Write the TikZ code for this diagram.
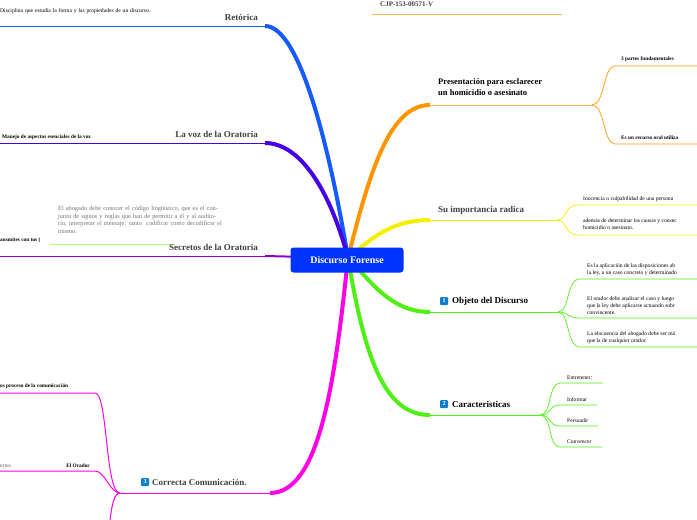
\documentclass[tikz,border=0pt]{standalone}
\usepackage{fontspec}
\setmainfont{Liberation Serif}
\begin{document}
\begin{tikzpicture}[x=1pt,y=-1pt,
 lbl/.style={font=\bfseries\fontsize{9}{10}\selectfont,text=black!75,inner sep=0},
 sm/.style={font=\fontsize{5.6}{7}\selectfont,inner sep=0,align=left},
 smb/.style={font=\bfseries\fontsize{5.3}{6}\selectfont,inner sep=0},
 ic/.style={fill=cyan!60!blue,text=white,font=\bfseries\fontsize{6}{6}\selectfont,rounded corners=1pt,minimum size=8pt,inner sep=0}]
\useasboundingbox (0,0) rectangle (697,520);
\definecolor{qb}{RGB}{20,90,255}\definecolor{qv}{RGB}{70,0,230}\definecolor{qp}{RGB}{140,0,210}
\definecolor{qm}{RGB}{255,0,230}\definecolor{qo}{RGB}{255,150,0}\definecolor{qy}{RGB}{245,240,0}
\definecolor{qg}{RGB}{80,240,20}\definecolor{ql}{RGB}{180,255,120}
% main branches
\coordinate (c) at (348,258);
\draw[qb,line width=4pt] (c) .. controls (330,150) and (300,26) .. (265,26);
\draw[qb,line width=1pt] (265,26) -- (0,26);
\draw[qv,line width=4pt] (c) .. controls (330,190) and (300,143) .. (265,143);
\draw[qv,line width=1pt] (265,143) -- (0,143);
\draw[qp,line width=2pt] (c) -- (265,256);
\draw[qp,line width=1pt] (265,256) -- (0,256);
\draw[qm,line width=4pt] (c) .. controls (335,380) and (320,493) .. (270,493);
\draw[qm,line width=1pt] (270,493) -- (120,493);
\draw[qo,line width=4pt] (c) .. controls (370,170) and (390,105) .. (430,105);
\draw[qo!70,line width=1pt] (430,105) -- (592,105);
\draw[qy,line width=4pt] (c) .. controls (370,240) and (390,220) .. (430,220);
\draw[qy,line width=1pt] (430,220) -- (557,220);
\draw[qg,line width=4pt] (c) .. controls (370,280) and (390,312) .. (430,312);
\draw[qg,line width=1pt] (430,312) -- (558,312);
\draw[qg,line width=4pt] (c) .. controls (365,360) and (385,415) .. (430,415);
\draw[qg,line width=1pt] (430,415) -- (540,415);
% center
\node[fill=blue!80!cyan,text=white,rounded corners=3pt,minimum width=113pt,minimum height=25pt,font=\bfseries\fontsize{10}{12}\selectfont] (center) at (347,260) {Discurso Forense};
% left labels
\node[lbl,anchor=south east] (ret) at (258,21) {Retórica};
\node[sm,anchor=north west,text width=155pt] (retd) at (0,8) {Disciplina que estudia la forma y las propiedades de un discurso.};
\node[lbl,anchor=south east] (voz) at (258,138) {La voz de la Oratoria};
\node[smb,anchor=south west] (vozd) at (2,140) {Manejo de aspectos esenciales de la voz};
\node[smb,anchor=south west] (sd) at (0,243) {ansmites con tus (};
\draw[ql,line width=1pt] (50,244) -- (175,244);
\node[lbl,anchor=south east] (sec) at (258,251) {Secretos de la Oratoria};
\node[anchor=north west,text width=168pt,text=black!55,font=\fontsize{6.3}{7.5}\selectfont,inner sep=0,align=left] (secd) at (58,206) {El abogado debe conocer el código lingüístico, que es el conjunto de signos y reglas que han de permitir a él y al auditorio, interpretar el mensaje: tanto~ codificar como decodificar el mismo.};
% correcta
\node[ic] (i3) at (145,482) {3};
\node[lbl,anchor=west] (cc) at (152,482) {Correcta Comunicación.};
\draw[qm,line width=1pt] (120,493) .. controls (105,493) and (108,393) .. (95,393) -- (0,393);
\draw[qm,line width=1pt] (120,493) .. controls (110,493) and (105,471) .. (95,471) -- (0,471);
\draw[qm,line width=1pt] (120,493) .. controls (114,493) and (112,505) .. (110,520);
\node[smb,anchor=south west] (pc) at (0,389) {os proceso de la comunicación};
\node[smb,anchor=south east] (or) at (90,468) {El Orador};
\node[sm,anchor=south west,text=black!60] (ern) at (0,468) {ernis};
% top
\node[anchor=west,font=\bfseries\fontsize{7}{8}\selectfont,text=black!75,inner sep=0] (cjp) at (380,4) {CJP-153-00571-V};
\draw[qo!70,line width=0.6pt] (372,14) -- (562,14);
% presentacion
\node[lbl,anchor=west,align=left,font=\bfseries\fontsize{8.5}{11}\selectfont,text=black] (pre) at (438,87) {Presentación para esclarecer\\un homicidio o asesinato};
\draw[qo,line width=0.7pt] (592,105) .. controls (605,105) and (603,66) .. (615,66) -- (697,66);
\draw[qo,line width=0.7pt] (592,105) .. controls (605,105) and (603,144) .. (615,144) -- (697,144);
\node[smb,anchor=south west] (p1) at (621,62) {3 partes fundamentales};
\node[smb,anchor=south west] (p2) at (621,140) {Es un recurso oral utiliza};
% importancia
\node[lbl,anchor=south west] (imp) at (438,215) {Su importancia radica};
\draw[qy,line width=0.7pt] (557,220) .. controls (567,220) and (565,205) .. (577,205) -- (697,205);
\draw[qy,line width=0.7pt] (557,220) .. controls (567,220) and (565,235) .. (577,235) -- (697,235);
\node[sm,anchor=south west] (i1) at (583,202) {Inocencia o culpabilidad de una persona};
\node[sm,anchor=north west] (i2) at (583,218) {además de determinar las causas y consec\\homicidio o asesinato.};
% objeto
\node[ic] (i1c) at (444,301) {1};
\node[lbl,anchor=west,text=black] (obj) at (452,301) {Objeto del Discurso};
\draw[qg,line width=0.7pt] (558,312) .. controls (570,312) and (566,279) .. (580,279) -- (697,279);
\draw[qg,line width=0.7pt] (558,312) .. controls (570,312) and (566,318) .. (580,318) -- (697,318);
\draw[qg,line width=0.7pt] (558,312) .. controls (570,312) and (566,347) .. (580,347) -- (697,347);
\node[sm,anchor=south west] (o1) at (587,276) {Es la aplicación de las disposiciones ab\\la ley, a un caso concreto y determinado};
\node[sm,anchor=south west] (o2) at (587,315) {El orador debe analizar el caso y luego\\que la ley debe aplicarse actuando sobr\\convincente.};
\node[sm,anchor=south west] (o3) at (587,344) {La elocuencia del abogado debe ser má\\que la de cualquier orador.};
% caracteristicas
\node[ic] (i2c) at (444,404) {2};
\node[lbl,anchor=west,text=black] (car) at (452,404) {Caracteristicas};
\foreach \y/\e/\t in {383/603/Entretener:,405/597/Informar,426/598/Persuadir,447/602/Convencer}{
 \draw[qg,line width=0.7pt] (540,415) .. controls (552,415) and (548,\y) .. (560,\y) -- (\e,\y);
 \node[sm,anchor=south west] at (567,\y-3) {\t};}
\end{tikzpicture}
\end{document}
